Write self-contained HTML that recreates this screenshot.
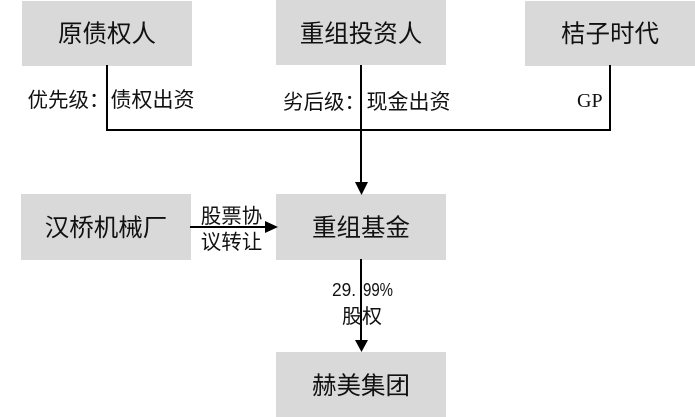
<!DOCTYPE html>
<html><head><meta charset="utf-8"><style>
html,body{margin:0;padding:0;background:#fff}
svg{display:block}
text{font-family:"Liberation Sans","WenQuanYi Zen Hei","Noto Sans CJK SC",sans-serif;fill:#111}
.t{font-size:24.500px;text-anchor:middle}
.l{font-size:20.500px}
</style></head><body>
<svg width="695" height="417" viewBox="0 0 695 417" xmlns="http://www.w3.org/2000/svg">
<g fill="#d9d9d9">
<rect x="22" y="1" width="170" height="65"/>
<rect x="276" y="0" width="170" height="65"/>
<rect x="525" y="1" width="170" height="65"/>
<rect x="21" y="194" width="170" height="66"/>
<rect x="276" y="194" width="170" height="66"/>
<rect x="276" y="352" width="170" height="65"/>
</g>
<g stroke="#000" stroke-width="2" fill="none">
<path d="M107 65V130H610V65"/>
<path d="M361 65V184"/>
<path d="M361 259V342"/>
<path d="M190 227H266"/>
</g>
<g fill="#000">
<path d="M355 182H368L361.500 195Z"/>
<path d="M355 340H368L361.500 352Z"/>
<path d="M265 221V233L278 227Z"/>
</g>
<text class="t" x="107" y="42">原债权人</text>
<text class="t" x="361" y="42">重组投资人</text>
<text class="t" x="610" y="42">桔子时代</text>
<text class="t" x="106" y="236">汉桥机械厂</text>
<text class="t" x="361" y="236">重组基金</text>
<text class="t" x="361" y="394">赫美集团</text>
<text class="l" x="27.500" y="107">优先级：</text>
<text x="110.500" y="107" style="font-size:21px">债权出资</text>
<text class="l" x="283" y="109">劣后级：</text>
<text x="366.500" y="109" style="font-size:21px">现金出资</text>
<text x="577" y="107" style="font-family:'Liberation Serif',serif;font-size:20px">GP</text>
<text class="l" x="231.500" y="223" text-anchor="middle">股票协</text>
<text class="l" x="231.500" y="249" text-anchor="middle">议转让</text>
<text x="332" y="296" style="font-size:18px" textLength="24" lengthAdjust="spacingAndGlyphs">29.</text>
<text x="363" y="296" style="font-size:18px" textLength="30" lengthAdjust="spacingAndGlyphs">99%</text>
<text x="362" y="323" text-anchor="middle" style="font-size:20px">股权</text>
</svg>
</body></html>
